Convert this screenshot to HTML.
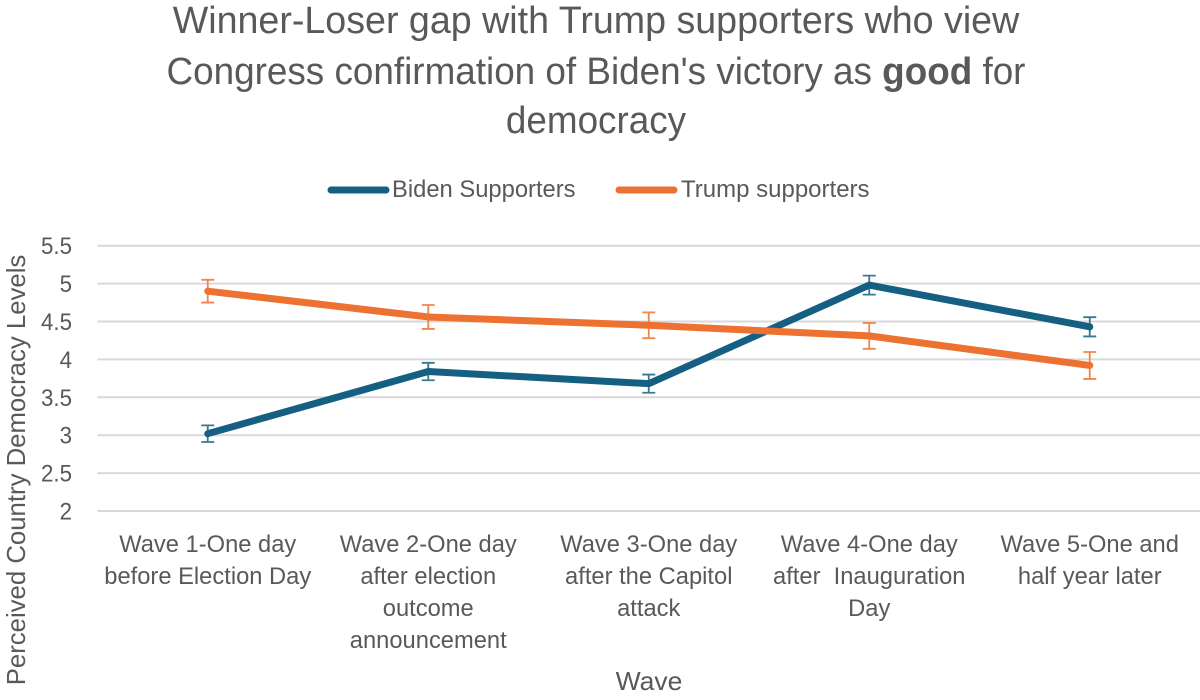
<!DOCTYPE html>
<html lang="en">
<head>
<meta charset="utf-8">
<title>Winner-Loser gap chart</title>
<style>
html,body{margin:0;padding:0;background:#fff;}
svg{display:block;font-family:"Liberation Sans",sans-serif;fill:#595959;}
</style>
</head>
<body>
<svg id="chart" xmlns="http://www.w3.org/2000/svg" width="1200" height="700" viewBox="0 0 1200 700">
  <g font-size="38" text-anchor="middle">
    <text transform="translate(596,33) scale(0.99,1)">Winner-Loser gap with Trump supporters who view</text>
    <text transform="translate(596,84) scale(0.97,1)">Congress confirmation of Biden's victory as <tspan font-weight="bold">good</tspan> for</text>
    <text transform="translate(596,133) scale(0.97,1)">democracy</text>
  </g>
  <g font-size="24.5">
    <line x1="331" y1="190" x2="386" y2="190" stroke="#156082" stroke-width="7" stroke-linecap="round"/>
    <text transform="translate(392,197) scale(0.97,1)">Biden Supporters</text>
    <line x1="619" y1="190" x2="674" y2="190" stroke="#ED7130" stroke-width="7" stroke-linecap="round"/>
    <text transform="translate(681,197) scale(0.98,1)">Trump supporters</text>
  </g>
  <g id="grid"></g>
  <g id="yticks" font-size="24" text-anchor="end"></g>
  <g id="xticks" font-size="24.5" text-anchor="middle"></g>
  <g id="series"></g>
  <text font-size="25.5" text-anchor="middle" transform="translate(25,470) rotate(-90) scale(1.01,1)">Perceived Country Democracy Levels</text>
  <text font-size="26" text-anchor="middle" transform="translate(649,690) scale(1.02,1)">Wave</text>
</svg>
<script>
const yTicks = [2, 2.5, 3, 3.5, 4, 4.5, 5, 5.5];
const categories = [
  ["Wave 1-One day", "before Election Day"],
  ["Wave 2-One day", "after election", "outcome", "announcement"],
  ["Wave 3-One day", "after the Capitol", "attack"],
  ["Wave 4-One day", "after  Inauguration", "Day"],
  ["Wave 5-One and", "half year later"]
];
const bidenValues = [3.02, 3.84, 3.68, 4.98, 4.43];
const bidenErrors = [0.11, 0.115, 0.12, 0.125, 0.127];
const trumpValues = [4.90, 4.56, 4.45, 4.31, 3.92];
const trumpErrors = [0.15, 0.158, 0.17, 0.17, 0.178];

const NS = "http://www.w3.org/2000/svg";
const plotLeft = 97.5, plotRight = 1200, plotBottom = 511, unitHeight = 75.8, yMin = 2;
const band = (plotRight - plotLeft) / categories.length;
function xPos(i) { return plotLeft + band * (i + 0.5); }
function yPos(v) { return plotBottom - (v - yMin) * unitHeight; }
function make(tag, attrs, parent) {
  const el = document.createElementNS(NS, tag);
  for (const k in attrs) el.setAttribute(k, attrs[k]);
  parent.appendChild(el);
  return el;
}

const grid = document.getElementById("grid");
const yGroup = document.getElementById("yticks");
yTicks.forEach(function (t) {
  const gl = make("line", {x1: plotLeft, x2: plotRight, y1: yPos(t), y2: yPos(t), stroke: "#D9D9D9", "stroke-width": 2}, grid);
  
  
  const lb = make("text", {transform: "translate(72," + (yPos(t) + 8.5) + ") scale(0.93,1)"}, yGroup);
  
  
  lb.textContent = String(t);
});

const xGroup = document.getElementById("xticks");
categories.forEach(function (lines, i) {
  lines.forEach(function (line, j) {
    const tx = make("text", {transform: "translate(" + xPos(i) + "," + (552 + j * 32) + ") scale(0.968,1)"}, xGroup);
    
    
    tx.setAttribute('xml:space', 'preserve');
    tx.style.whiteSpace = "pre";
    tx.textContent = line;
  });
});

function drawSeries(values, errors, color, name) {
  const root = document.getElementById("series");
  const g = make("g", {}, root);
  
  
  values.forEach(function (v, i) {
    const x = xPos(i), hi = yPos(v + errors[i]), lo = yPos(v - errors[i]);
    const eb = make("path", {
      d: "M" + x + " " + hi + "V" + lo + "M" + (x - 6.5) + " " + hi + "H" + (x + 6.5) + "M" + (x - 6.5) + " " + lo + "H" + (x + 6.5),
      fill: "none", stroke: color, "stroke-width": 1.8, opacity: 0.85
    }, g);
    
    
  });
  const pts = values.map(function (v, i) { return xPos(i) + "," + yPos(v); }).join(" ");
  const ln = make("polyline", {points: pts, fill: "none", stroke: color, "stroke-width": 7, "stroke-linecap": "round", "stroke-linejoin": "round"}, g);
  
  
}
drawSeries(bidenValues, bidenErrors, "#156082", "series-biden-supporters");
drawSeries(trumpValues, trumpErrors, "#ED7130", "series-trump-supporters");
</script>
</body>
</html>
